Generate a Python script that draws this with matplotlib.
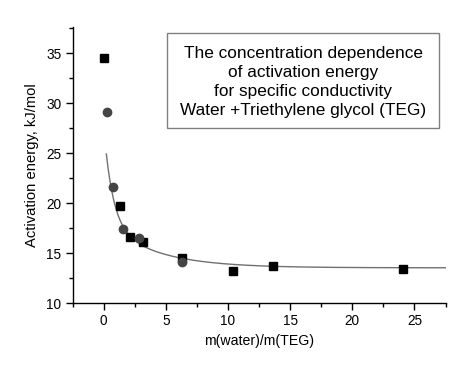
import numpy as np
import matplotlib
matplotlib.use("Agg")
import matplotlib.pyplot as plt
from matplotlib.patches import Rectangle
from matplotlib.ticker import MultipleLocator

plt.rcParams['font.family'] = ['Liberation Sans', 'DejaVu Sans']

# squares (black)
sq_x = [0.0, 1.34, 2.11, 3.18, 6.32, 10.4, 13.66, 24.06]
sq_y = [34.5, 19.7, 16.66, 16.16, 14.5, 13.2, 13.76, 13.43]

# circles (dark gray)
ci_x = [0.27, 0.75, 1.52, 2.83, 6.32]
ci_y = [29.1, 21.6, 17.43, 16.56, 14.1]

# fitted curve, two-term exponential decay (parameters)
fit_y0 = 13.55
fit_a1, fit_t1 = 9.6, 0.7
fit_a2, fit_t2 = 4.6, 4.0
fit_x0, fit_x1 = 0.22, 27.5

x_ticks = [0, 5, 10, 15, 20, 25]
y_ticks = [10, 15, 20, 25, 30, 35]

box_lines = ["The concentration dependence",
             "of activation energy",
             "for specific conductivity",
             "Water +Triethylene glycol (TEG)"]

fig = plt.figure(figsize=(4.74, 3.75), dpi=100)
ax = fig.add_axes([0.153, 0.191, 0.787, 0.737])

xf = np.linspace(fit_x0, fit_x1, 400)
yf = fit_y0 + fit_a1 * np.exp(-xf / fit_t1) + fit_a2 * np.exp(-xf / fit_t2)
ax.plot(xf, yf, color='#707070', lw=1.0, zorder=2)

ax.plot(sq_x, sq_y, 's', color='black', ms=5.2, mec='black', zorder=3)
ax.plot(ci_x, ci_y, 'o', color='#454545', ms=6.0, mec='#454545', zorder=3)

ax.set_xlim(-2.5, 27.5)
ax.set_ylim(10, 37.6)
ax.set_xticks(x_ticks)
ax.set_yticks(y_ticks)
ax.xaxis.set_minor_locator(MultipleLocator(2.5))
ax.yaxis.set_minor_locator(MultipleLocator(2.5))
ax.tick_params(which='major', direction='out', length=5, width=1, labelsize=9.8, pad=3)
ax.tick_params(which='minor', direction='out', length=3, width=1)
for s in ['top', 'right']:
    ax.spines[s].set_visible(False)
for s in ['left', 'bottom']:
    ax.spines[s].set_linewidth(1.0)

ax.set_xlabel("m(water)/m(TEG)", fontsize=10.2, labelpad=4)
ax.set_ylabel("Activation energy, kJ/mol", fontsize=10.6, labelpad=5)

# legend-like text box, placed in figure pixels
W, H = 474.0, 375.0
bx0, by0, bx1, by1 = 167.3, 33.3, 439.3, 128.3
fig.add_artist(Rectangle((bx0 / W, 1 - by1 / H), (bx1 - bx0) / W, (by1 - by0) / H,
                         transform=fig.transFigure, fill=False,
                         edgecolor='#808080', lw=1.0))
fig.text((bx0 + bx1) / 2 / W, 1 - 82 / H, "\n".join(box_lines),
         ha='center', va='center', fontsize=12.4, linespacing=1.32)

fig.savefig("out.png", dpi=100)
